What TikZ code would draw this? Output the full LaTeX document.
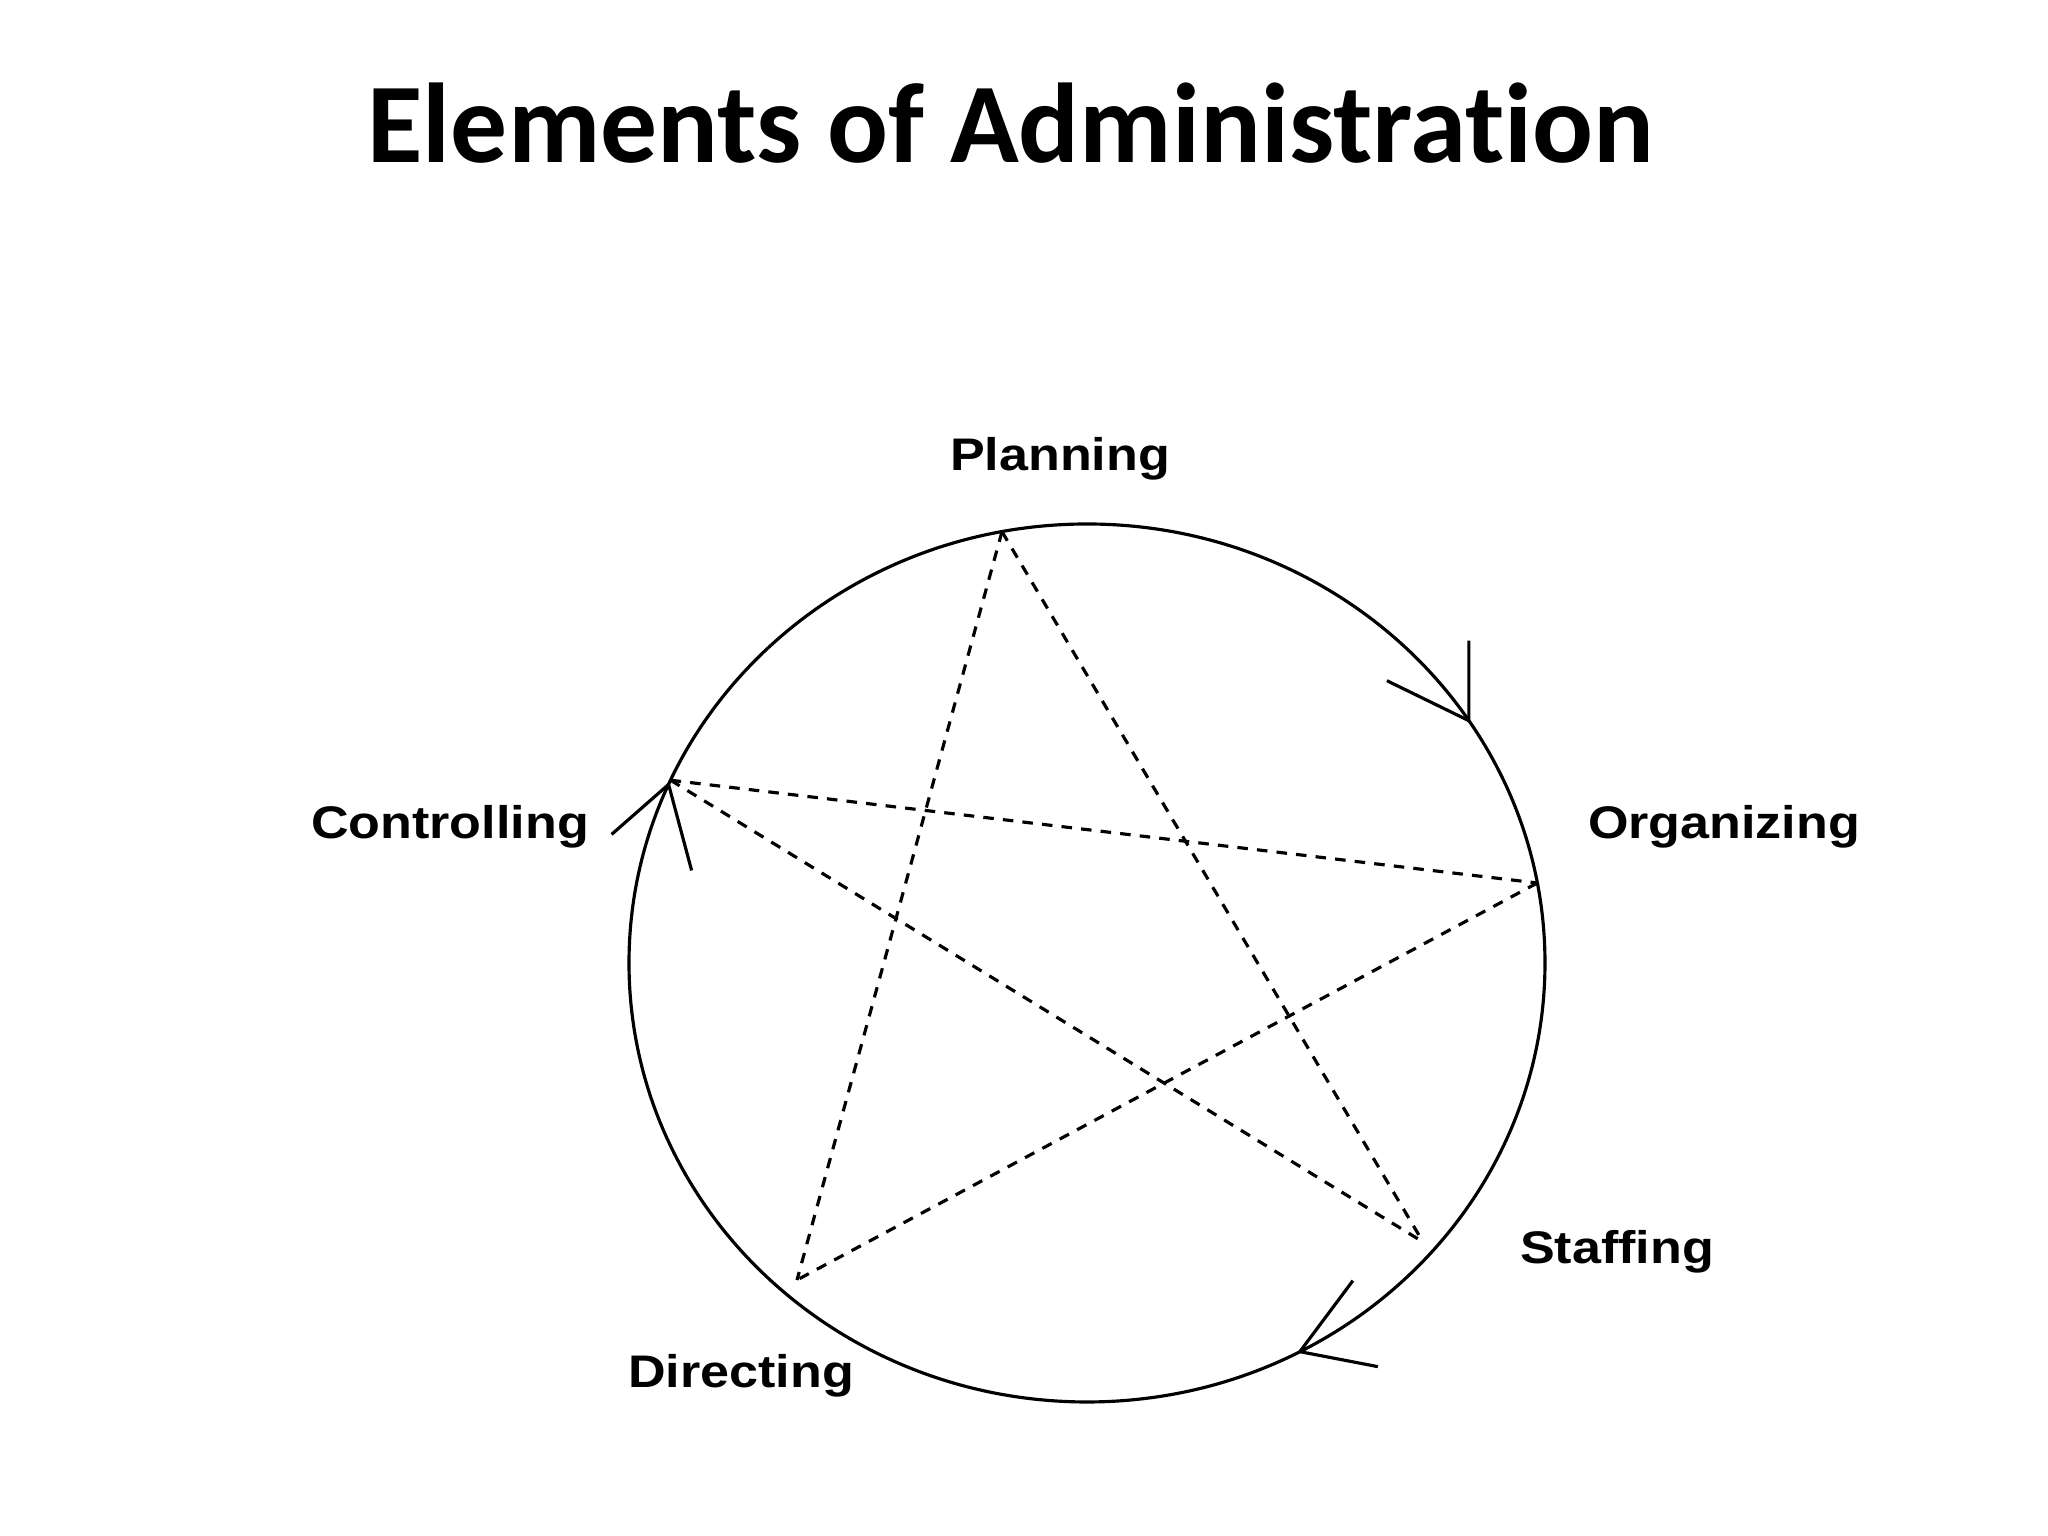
\documentclass[tikz,border=0pt]{standalone}
\usepackage{fontspec}
\usetikzlibrary{calc}
\setmainfont{Liberation Sans}
\newfontfamily\titlefont[Ligatures=NoCommon]{Carlito}
\newfontfamily\labelfont[FakeStretch=1.14]{Liberation Sans}
\begin{document}
\begin{tikzpicture}[
	label/.style={anchor=base, inner sep=0pt, font=\labelfont\bfseries\fontsize{13}{15}\selectfont},
	ring/.style={line width=0.9pt},
	starline/.style={line width=0.9pt, dash pattern=on 3pt off 2.6pt}
]
	\useasboundingbox (0,0) rectangle (20.48,15.36);

	% Titolo
	\node[anchor=base, inner sep=0pt, font=\titlefont\bfseries\fontsize{32.3}{38}\selectfont] (title) at (10.11,13.73) {Elements of Administration};

	% Cerchio
	\coordinate (c) at (10.87,5.73);
	\draw[ring] (c) ellipse (4.58 and 4.39);

	% Punti della stella (sul cerchio o appena dentro)
	\coordinate (plan) at ($(c)+(100.7:4.58 and 4.39)$);
	\coordinate (org)  at ($(c)+(10.5:4.58 and 4.39)$);
	\coordinate (staff) at (14.23,2.94);
	\coordinate (dir)  at (7.97,2.56);
	\coordinate (ctrl) at ($(c)+(155.4:4.58 and 4.39)$);

	% Stella tratteggiata
	\draw[starline] (plan) -- (dir);
	\draw[starline] (plan) -- (staff);
	\draw[starline] (ctrl) -- (org);
	\draw[starline] (ctrl) -- (staff);
	\draw[starline] (org) -- (dir);

	% Frecce aperte sul cerchio
	\coordinate (a1) at ($(c)+(33.5:4.58 and 4.39)$);
	\coordinate (a2) at ($(c)+(156:4.58 and 4.39)$);
	\coordinate (a3) at ($(c)+(-62.3:4.58 and 4.39)$);
	\draw[ring] (a1) ++(0,0.80) -- (a1) -- ++(-0.82,0.40);
	\draw[ring] (a2) ++(-0.57,-0.50) -- (a2) -- ++(0.23,-0.86);
	\draw[ring] (a3) ++(0.53,0.71) -- (a3) -- ++(0.78,-0.15);

	% Etichette
	\node[label] (planning) at (10.60,10.65) {Planning};
	\node[label] (organizing) at (17.24,6.97) {Organizing};
	\node[label] (staffing) at (16.17,2.72) {Staffing};
	\node[label] (directing) at (7.41,1.48) {Directing};
	\node[label] (controlling) at (4.50,6.97) {Controlling};

\end{tikzpicture}
\end{document}
